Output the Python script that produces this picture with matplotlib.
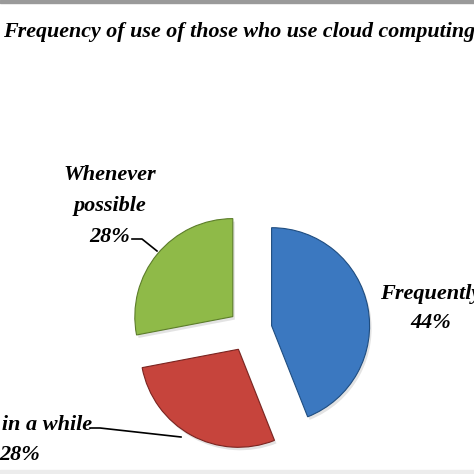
import matplotlib.pyplot as plt
from matplotlib.patches import Rectangle

# данные
labels = ['Frequently', 'Once in a while', 'Whenever\npossible']
shares = [44, 28, 28]
colors = ['#3b78c0', '#c6443c', '#8fba48']
edge_colors = ['#1f4d80', '#7a2420', '#5c7d2a']

W = H = 474
fig = plt.figure(figsize=(4.74, 4.74), dpi=100)
ax = fig.add_axes([0, 0, 1, 1])

cx, cy, R = 249, H - 330, 98
explode = [23, 22, 21]  # в пикселях (единицы данных)

# тень
ax.pie(shares, colors=['#b0b0b0'] * 3, startangle=90, counterclock=False,
       explode=explode, center=(cx + 2, cy - 3), radius=R, frame=True,
       wedgeprops=dict(linewidth=0, alpha=0.35))
wedges, _ = ax.pie(shares, colors=colors, startangle=90, counterclock=False,
                   explode=explode, center=(cx, cy), radius=R, frame=True,
                   wedgeprops=dict(linewidth=0.8))
for w, ec in zip(wedges, edge_colors):
    w.set_edgecolor(ec)
ax.set_xlim(0, W)
ax.set_ylim(0, H)
ax.set_aspect('auto')
ax.axis('off')

font = dict(family='Liberation Serif', style='italic', weight='bold', color='black')
fs = 16

ax.text(3, H - 32, 'Frequency of use of those who use cloud computing',
        fontsize=15.8, ha='left', va='center', **font)

ax.text(431, H - 309, f'{labels[0]}\n{shares[0]}%', fontsize=fs, ha='center',
        va='center', linespacing=1.6, **font)
ax.text(20, H - 440, f'{labels[1]}\n{shares[1]}%', fontsize=fs, ha='center',
        va='center', linespacing=1.7, **font)
ax.text(110, H - 206, f'{labels[2]}\n{shares[2]}%', fontsize=fs, ha='center',
        va='center', linespacing=1.75, **font)

# выноски
ax.plot([132, 142, 157], [H - 239, H - 239, H - 251], color='black', lw=1.2)
ax.plot([90, 100, 181], [H - 428, H - 428, H - 437], color='black', lw=1.2)

# рамки сверху и снизу
fig.patches.append(Rectangle((0, 1 - 3 / H), 1, 3 / H, transform=fig.transFigure,
                             color='#9a9a9a', zorder=10))
fig.patches.append(Rectangle((0, 0), 1, 4 / H, transform=fig.transFigure,
                             color='#ececec', zorder=10))

fig.savefig('out.png', dpi=100)
